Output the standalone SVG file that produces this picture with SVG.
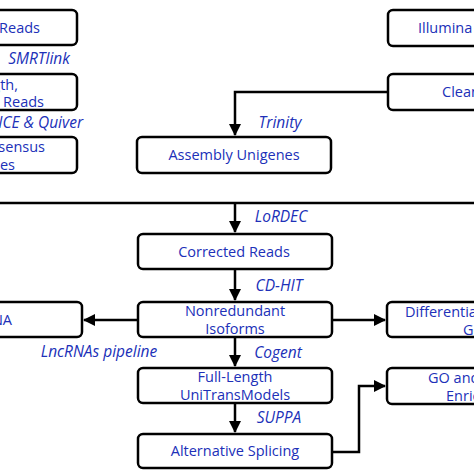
<svg xmlns="http://www.w3.org/2000/svg" width="474" height="474" viewBox="0 0 474 474">
<defs>
<marker id="ah" markerWidth="12" markerHeight="12" refX="11" refY="6" orient="auto" markerUnits="userSpaceOnUse" viewBox="0 0 12 12">
<path d="M0,0 L12,6 L0,12 Z" fill="#000"/>
</marker>
<style>
.box{fill:#fff;stroke:#000;stroke-width:2.5}
.t{font-family:"Open Sans","Noto Sans",sans-serif;font-size:14.5px;fill:#2030b8;text-anchor:middle}
.l{font-family:"Open Sans","Noto Sans",sans-serif;font-size:15.5px;font-style:italic;fill:#2030b8;text-anchor:middle}
.s{text-anchor:start}
.e{text-anchor:end}
.c{fill:none;stroke:#000;stroke-width:2.5}
</style>
</defs>
<rect width="474" height="474" fill="#fff"/>
<g id="connectors">
<path class="c" d="M388,92 H235 V135" marker-end="url(#ah)"/>
<path class="c" d="M0,203 H474"/>
<path class="c" d="M235,203 V232" marker-end="url(#ah)"/>
<path class="c" d="M235,269 V300" marker-end="url(#ah)"/>
<path class="c" d="M138,320 H84" marker-end="url(#ah)"/>
<path class="c" d="M332,320 H385" marker-end="url(#ah)"/>
<path class="c" d="M235,337 V366" marker-end="url(#ah)"/>
<path class="c" d="M235,403 V432" marker-end="url(#ah)"/>
<path class="c" d="M332,452 H359 V386 H385" marker-end="url(#ah)"/>
</g>
<g id="labels">
<text class="l" x="39" y="64">SMRTlink</text>
<text class="l e" x="83" y="128">ICE &amp; Quiver</text>
<text class="l" x="280" y="128">Trinity</text>
<text class="l" x="281" y="222">LoRDEC</text>
<text class="l" x="279" y="291">CD-HIT</text>
<text class="l" x="99" y="357">LncRNAs pipeline</text>
<text class="l" x="278" y="358">Cogent</text>
<text class="l" x="279" y="423">SUPPA</text>
</g>
<g id="n1"><rect class="box" x="-120" y="10" width="197" height="35" rx="5"/><text class="t e" x="40" y="33">Polymerase Reads</text></g>
<g id="n2"><rect class="box" x="-120" y="74" width="197" height="36" rx="5"/><text class="t e" x="18" y="90">Full-length,</text><text class="t e" x="44" y="107">Non-chimeric Reads</text></g>
<g id="n3"><rect class="box" x="-120" y="137" width="197" height="36" rx="5"/><text class="t e" x="45" y="152">Polished Consensus</text><text class="t e" x="15" y="170">Sequences</text></g>
<g id="n4"><rect class="box" x="388" y="10" width="200" height="36" rx="5"/><text class="t s" x="418" y="33">Illumina Raw Reads</text></g>
<g id="n5"><rect class="box" x="388" y="74" width="200" height="36" rx="5"/><text class="t s" x="442" y="97">Clean Reads</text></g>
<g id="n6"><rect class="box" x="137" y="137" width="194" height="36" rx="5"/><text class="t" x="234" y="160">Assembly Unigenes</text></g>
<g id="n7"><rect class="box" x="138" y="234" width="194" height="35" rx="5"/><text class="t" x="234" y="257">Corrected Reads</text></g>
<g id="n8"><rect class="box" x="138" y="302" width="194" height="35" rx="5"/><text class="t" x="235" y="316">Nonredundant</text><text class="t" x="235" y="334">Isoforms</text></g>
<g id="n9"><rect class="box" x="-120" y="302" width="202" height="35" rx="5"/><text class="t e" x="12" y="325">LncRNA</text></g>
<g id="n10"><rect class="box" x="387" y="302" width="200" height="35" rx="5"/><text class="t s" x="405" y="317">Differentially Expressed</text><text class="t s" x="463" y="335">Genes</text></g>
<g id="n11"><rect class="box" x="138" y="368" width="194" height="35" rx="5"/><text class="t" x="235" y="382">Full-Length</text><text class="t" x="235" y="400">UniTransModels</text></g>
<g id="n12"><rect class="box" x="387" y="368" width="200" height="36" rx="5"/><text class="t s" x="428" y="383">GO and KEGG</text><text class="t s" x="446" y="401">Enrichment</text></g>
<g id="n13"><rect class="box" x="138" y="434" width="194" height="34" rx="5"/><text class="t" x="235" y="456">Alternative Splicing</text></g>
</svg>
